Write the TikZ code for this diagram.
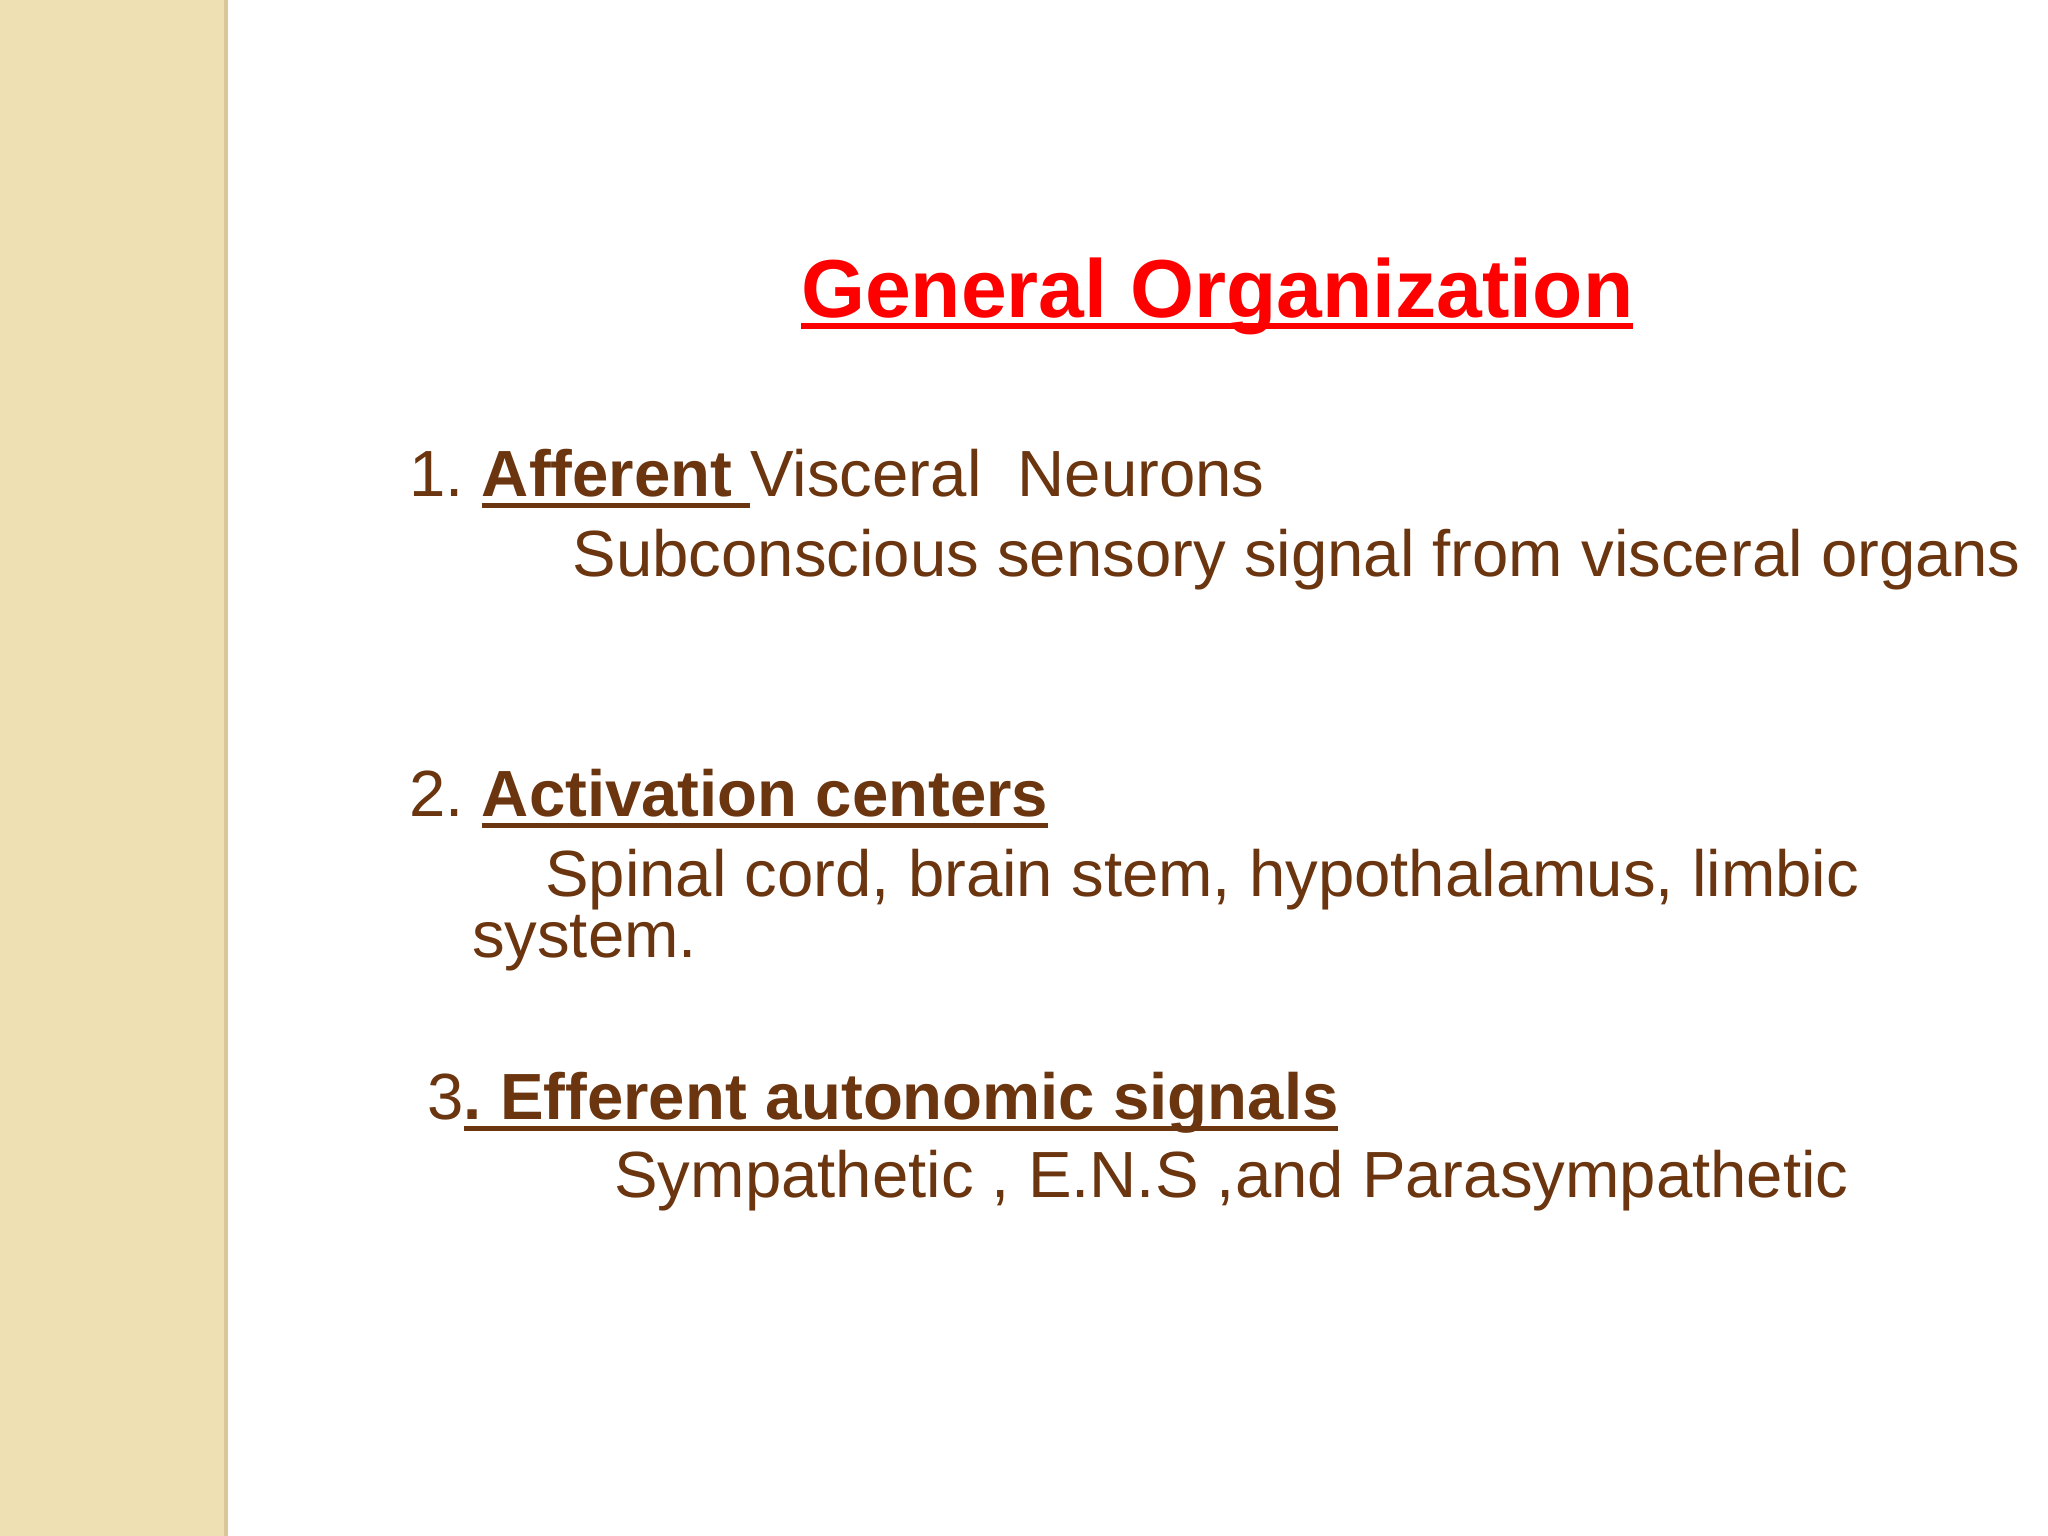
\documentclass[tikz,border=0pt]{standalone}
\usepackage{fontspec}
\setmainfont{Liberation Sans}
\frenchspacing
\definecolor{txtbrown}{HTML}{6B3510}
\definecolor{strip}{HTML}{EFE0B4}
\definecolor{stripedge}{HTML}{D9C79A}
\newcommand{\myul}[2][1.7pt]{\setbox0\hbox{#2}\rlap{\rule[-4.3pt]{\wd0}{#1}}\box0}
\tikzset{
  body/.style={anchor=base west, inner sep=0pt, text=txtbrown, font=\fontsize{25}{29}\selectfont},
}
\begin{document}
\begin{tikzpicture}[x=0.5pt,y=-0.5pt]
\useasboundingbox (0,0) rectangle (1568,1176);
\fill[white] (0,0) rectangle (1568,1176);
\fill[strip] (0,0) rectangle (173,1176);
\draw[stripedge, line width=1.5pt] (173,0) -- (173,1176);
\node[anchor=base west, inner sep=0pt, text=red, font=\fontsize{31.5}{36}\selectfont\bfseries] (title) at (613,243) {\myul[2.2pt]{General Organization}};
\node[body] (l1) at (313,380) {1. \myul{\textbf{Afferent }}Visceral\ \ Neurons};
\node[body] (l1b) at (438,441) {Subconscious sensory signal from visceral organs};
\node[body] (l2) at (313,625) {2. \myul{\textbf{Activation centers}}};
\node[body] (l2b) at (417,686) {Spinal cord, brain stem, hypothalamus, limbic};
\node[body] (l2c) at (361,733) {system.};
\node[body] (l3) at (327,857) {3\myul{\textbf{. Efferent autonomic signals}}};
\node[body] (l3b) at (470,917) {Sympathetic , E.N.S ,and Parasympathetic};
\end{tikzpicture}
\end{document}
